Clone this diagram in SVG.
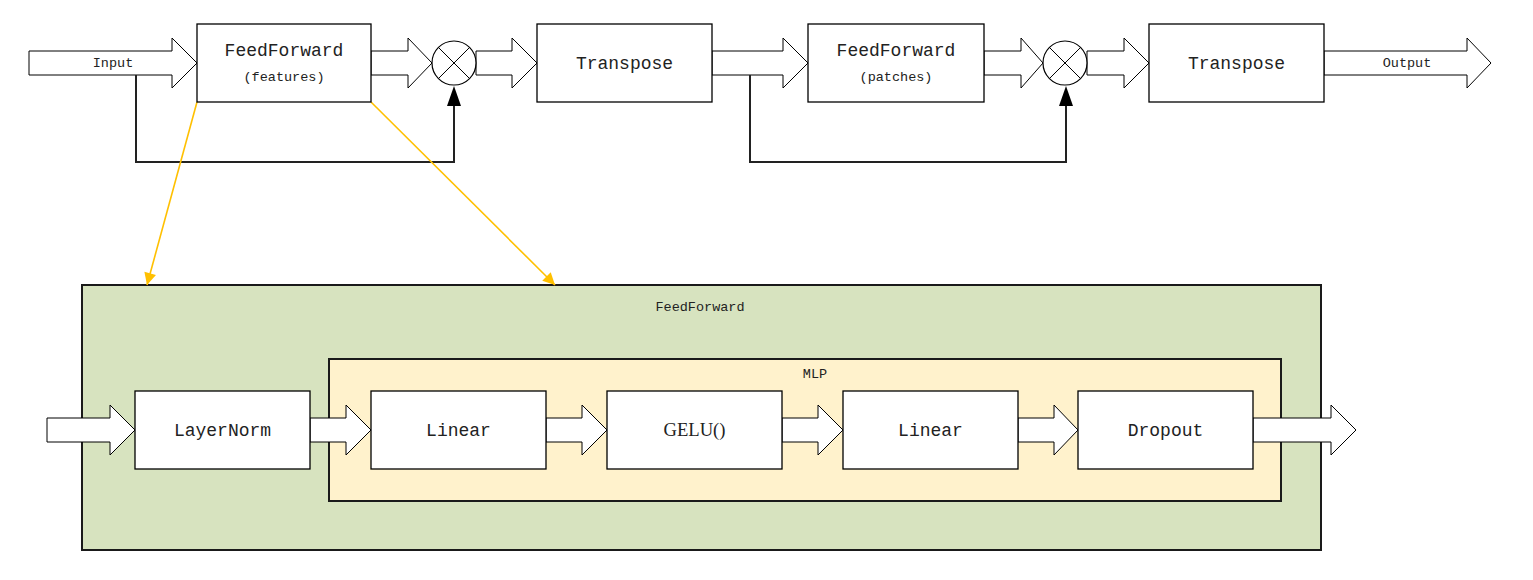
<svg xmlns="http://www.w3.org/2000/svg" width="1533" height="580" viewBox="0 0 1533 580">
<defs>
<style>
.box{fill:#fff;stroke:#000;stroke-width:1.3}
.barrow{fill:#fff;stroke:#000;stroke-width:1}
.lbl{font-family:"Liberation Mono","DejaVu Sans Mono",monospace;font-size:18px;fill:#222;text-anchor:middle}
.sm{font-family:"Liberation Mono","DejaVu Sans Mono",monospace;font-size:13.5px;fill:#222;text-anchor:middle}
.skip{fill:none;stroke:#222;stroke-width:2}
.head{fill:#000}
.orange{fill:none;stroke:#FFC000;stroke-width:1.6}
</style>
<marker id="org" viewBox="0 0 10 10" refX="10" refY="5" markerWidth="15" markerHeight="12" markerUnits="userSpaceOnUse" orient="auto">
<path d="M0,0 L10,5 L0,10 Z" fill="#FFC000"/>
</marker>
</defs>

<g id="feedforward-container">
<rect x="82" y="285" width="1239" height="265" fill="#D7E3BF" stroke="#1a1a1a" stroke-width="2"/>
<text class="sm" x="700" y="311">FeedForward</text>
</g>
<g id="mlp-container">
<rect x="329" y="359" width="952" height="142" fill="#FFF2CC" stroke="#1a1a1a" stroke-width="2"/>
<text class="sm" x="815" y="378">MLP</text>
</g>

<g id="connectors">
<path class="barrow" d="M29,51 H172 V38 L197,63 L172,88 V75 H29 Z"/>
<path class="barrow" d="M371,51 H408 V38 L432,63 L408,88 V75 H371 Z"/>
<path class="barrow" d="M476,51 H512 V38 L537,63 L512,88 V75 H476 Z"/>
<path class="barrow" d="M712,51 H783 V38 L808,63 L783,88 V75 H712 Z"/>
<path class="barrow" d="M984,51 H1021 V38 L1043,63 L1021,88 V75 H984 Z"/>
<path class="barrow" d="M1087,51 H1124 V38 L1149,63 L1124,88 V75 H1087 Z"/>
<path class="barrow" d="M1324,51 H1467 V38 L1491,63 L1467,88 V75 H1324 Z"/>
<text class="sm" x="113" y="67">Input</text>
<text class="sm" x="1407" y="67">Output</text>
<path class="skip" d="M136,75 V162 H454 V104"/>
<path class="head" d="M454,86 L461,106 L447,106 Z"/>
<path class="skip" d="M750,75 V162 H1066 V104"/>
<path class="head" d="M1066,86 L1073,106 L1059,106 Z"/>
<path class="orange" d="M197,102 L147,285" marker-end="url(#org)"/>
<path class="orange" d="M371,102 L555,285" marker-end="url(#org)"/>
<path class="barrow" d="M47,418 H110 V405 L135,430 L110,455 V442 H47 Z"/>
<path class="barrow" d="M310,418 H346 V405 L371,430 L346,455 V442 H310 Z"/>
<path class="barrow" d="M546,418 H582 V405 L607,430 L582,455 V442 H546 Z"/>
<path class="barrow" d="M782,418 H818 V405 L843,430 L818,455 V442 H782 Z"/>
<path class="barrow" d="M1018,418 H1054 V405 L1078,430 L1054,455 V442 H1018 Z"/>
<path class="barrow" d="M1253,418 H1331 V405 L1356,430 L1331,455 V442 H1253 Z"/>
</g>

<g id="ff-features">
<rect class="box" x="197" y="24" width="174" height="78"/>
<text class="lbl" x="284" y="56">FeedForward</text>
<text class="sm" x="284" y="81">(features)</text>
</g>
<g id="mul-1">
<circle cx="454" cy="63" r="22" fill="#fff" stroke="#000" stroke-width="1.2"/>
<path d="M438.4,47.4 L469.6,78.6 M469.6,47.4 L438.4,78.6" stroke="#000" stroke-width="1"/>
</g>
<g id="transpose-1">
<rect class="box" x="537" y="24" width="175" height="78"/>
<text class="lbl" x="624.5" y="69">Transpose</text>
</g>
<g id="ff-patches">
<rect class="box" x="808" y="24" width="176" height="78"/>
<text class="lbl" x="896" y="56">FeedForward</text>
<text class="sm" x="896" y="81">(patches)</text>
</g>
<g id="mul-2">
<circle cx="1065" cy="63" r="22" fill="#fff" stroke="#000" stroke-width="1.2"/>
<path d="M1049.4,47.4 L1080.6,78.6 M1080.6,47.4 L1049.4,78.6" stroke="#000" stroke-width="1"/>
</g>
<g id="transpose-2">
<rect class="box" x="1149" y="24" width="175" height="78"/>
<text class="lbl" x="1236.5" y="69">Transpose</text>
</g>

<g id="layernorm">
<rect class="box" x="135" y="391" width="175" height="78"/>
<text class="lbl" x="222.5" y="436">LayerNorm</text>
</g>
<g id="linear-1">
<rect class="box" x="371" y="391" width="175" height="78"/>
<text class="lbl" x="458.5" y="436">Linear</text>
</g>
<g id="gelu">
<rect class="box" x="607" y="391" width="175" height="78"/>
<text x="694.5" y="436" font-family="'Liberation Serif',serif" font-size="19" fill="#222" text-anchor="middle" textLength="62" lengthAdjust="spacingAndGlyphs">GELU()</text>
</g>
<g id="linear-2">
<rect class="box" x="843" y="391" width="175" height="78"/>
<text class="lbl" x="930.5" y="436">Linear</text>
</g>
<g id="dropout">
<rect class="box" x="1078" y="391" width="175" height="78"/>
<text class="lbl" x="1165.5" y="436">Dropout</text>
</g>
</svg>
